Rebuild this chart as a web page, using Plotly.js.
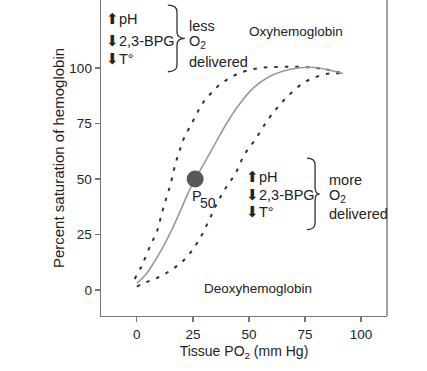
<!DOCTYPE html>
<html>
<head>
<meta charset="utf-8">
<script src="https://cdn.plot.ly/plotly-3.0.1.min.js"></script>
<style>html,body{margin:0;padding:0;background:#fff;}#chart{width:427px;height:371px;}</style>
</head>
<body>
<div id="chart"></div>
<script>
// Tissue PO2 (mm Hg) and % saturation, normal curve (solid)
const normalPO2 = [0, 4, 8, 12, 16, 20, 23, 26, 30, 35, 40, 46, 52, 58, 65, 72, 80, 86, 92];
const normalSat = [3, 7, 13, 20, 28, 37, 44, 50, 57, 66, 75, 84, 91, 95.5, 98.5, 100, 100.2, 99, 97.5];
// left-shifted curve (less O2 delivered)
const leftPO2 = [-1, 2, 6, 9, 11, 13.3, 15, 16.5, 18, 19.5, 21.5, 24.5, 27, 30, 33.5, 37, 41.5, 46, 52, 58, 65, 72, 80, 86, 92];
const leftSat = [5, 10.5, 20, 26.5, 34, 42, 47.5, 54, 59.5, 64, 69.5, 75, 80, 85, 89, 92.5, 95.5, 97.8, 99.5, 100.3, 100.5, 100.5, 100, 99, 97.5];
// right-shifted curve (more O2 delivered)
const rightPO2 = [0, 4, 8, 12, 16, 20, 24, 28, 32, 36, 40, 44, 48, 53, 58, 63, 68, 74, 80, 86, 92];
const rightSat = [1.5, 3.5, 5, 7, 9.5, 12.5, 17, 23, 31, 39.5, 46.5, 52.5, 61, 68, 76, 82.5, 88, 93, 96, 97.5, 97.5];
// P50 point
const p50PO2 = [26];
const p50Sat = [50];
// ticks
const xTicks = [0, 25, 50, 75, 100];
const yTicks = [0, 25, 50, 75, 100];

const FONT = "Liberation Sans, Arial, Helvetica, sans-serif";
const TXT = "#222";

const traces = [
  {x: leftPO2, y: leftSat, mode: "lines", line: {color: "#333", width: 2, dash: "3.5px,7px", shape: "spline", smoothing: 1}, hoverinfo: "skip"},
  {x: rightPO2, y: rightSat, mode: "lines", line: {color: "#333", width: 2, dash: "3.5px,7px", shape: "spline", smoothing: 1}, hoverinfo: "skip"},
  {x: normalPO2, y: normalSat, mode: "lines", line: {color: "#9a9a9a", width: 1.6, shape: "spline", smoothing: 1}, hoverinfo: "skip"},
  {x: p50PO2, y: p50Sat, mode: "markers", marker: {size: 17, color: "#585858", line: {width: 0}}, hoverinfo: "skip"}
];

function brace(x0, xm, x1, ytop, ybot, r) {
  const ym = (ytop + ybot) / 2;
  return `M ${x0},${ytop} Q ${xm},${ytop} ${xm},${ytop - r} L ${xm},${ym + r} Q ${xm},${ym} ${x1},${ym} ` +
         `Q ${xm},${ym} ${xm},${ym - r} L ${xm},${ybot + r} Q ${xm},${ybot} ${x0},${ybot}`;
}

function ann(x, y, text, size, xanchor, family) {
  return {x: x, y: y, xref: "x", yref: "y", text: text, showarrow: false,
          xanchor: xanchor || "left", yanchor: "middle",
          font: {family: family || FONT, size: size || 14, color: TXT}};
}
const ARW = "DejaVu Sans";

const annotations = [
  // top-left block
  ann(-10.7, 122, "⬆", 15, "center", ARW),
  ann(-10.7, 112.3, "⬇", 15, "center", ARW),
  ann(-10.7, 104, "⬇", 15, "center", ARW),
  ann(-9.0, 122, "pH", 14.5),
  ann(-9.0, 112.3, "2,3-BPG", 14.5),
  ann(-9.0, 104, "T°", 14.5),
  ann(22.3, 119, "less", 14.5),
  ann(22.3, 111.6, "O<sub>2</sub>", 14.5),
  ann(22.3, 102.6, "delivered", 14.5),
  // right block
  ann(51.8, 50.9, "⬆", 15, "center", ARW),
  ann(51.8, 42.8, "⬇", 15, "center", ARW),
  ann(51.8, 35.0, "⬇", 15, "center", ARW),
  ann(53.6, 50.9, "pH", 14.5),
  ann(53.6, 42.8, "2,3-BPG", 14.5),
  ann(53.6, 35.0, "T°", 14.5),
  ann(84.8, 49.4, "more", 14.5),
  ann(84.8, 42.2, "O<sub>2</sub>", 14.5),
  ann(84.8, 34.4, "delivered", 14.5),
  // labels
  ann(71, 116.6, "Oxyhemoglobin", 13.5, "center"),
  ann(54, 0.9, "Deoxyhemoglobin", 13.5, "center"),
  ann(23.6, 42.3, "P", 14.5),
  ann(27.4, 39.4, "50", 14)
];

const shapes = [
  {type: "line", xref: "paper", yref: "paper", x0: 1, x1: 1, y0: 0, y1: 1, line: {color: "#777", width: 1.4}},
  {type: "path", xref: "x", yref: "y", path: brace(13.8, 17.9, 21.4, 128.3, 98.3, 3), line: {color: "#333", width: 1.3}},
  {type: "path", xref: "x", yref: "y", path: brace(75.9, 79.5, 81.6, 59.4, 27.2, 3), line: {color: "#333", width: 1.3}}
];

const layout = {
  width: 427, height: 371,
  margin: {l: 101, r: 40, t: 0, b: 55},
  paper_bgcolor: "#fff", plot_bgcolor: "#fff",
  showlegend: false,
  font: {family: FONT, color: TXT},
  xaxis: {
    range: [-16, 111.6], tickvals: xTicks, ticktext: xTicks.map(String),
    ticks: "outside", ticklen: 5, tickcolor: "#777", tickwidth: 1.2,
    showline: true, linecolor: "#777", linewidth: 1.4, showgrid: false, zeroline: false,
    tickfont: {family: FONT, size: 13.5, color: TXT},
    title: {text: "Tissue PO<sub>2</sub> (mm Hg)", font: {family: FONT, size: 14, color: TXT}, standoff: 5}
  },
  yaxis: {
    range: [-11.7, 130.6], tickvals: yTicks, ticktext: yTicks.map(String),
    ticks: "outside", ticklen: 5, tickcolor: "#777", tickwidth: 1.2,
    showline: true, linecolor: "#777", linewidth: 1.4, showgrid: false, zeroline: false,
    tickfont: {family: FONT, size: 13.5, color: TXT},
    title: {text: "Percent saturation of hemoglobin", font: {family: FONT, size: 15, color: TXT}, standoff: 1}
  },
  annotations: annotations,
  shapes: shapes
};

Plotly.newPlot("chart", traces, layout, {staticPlot: true, displayModeBar: false});
</script>
</body>
</html>
